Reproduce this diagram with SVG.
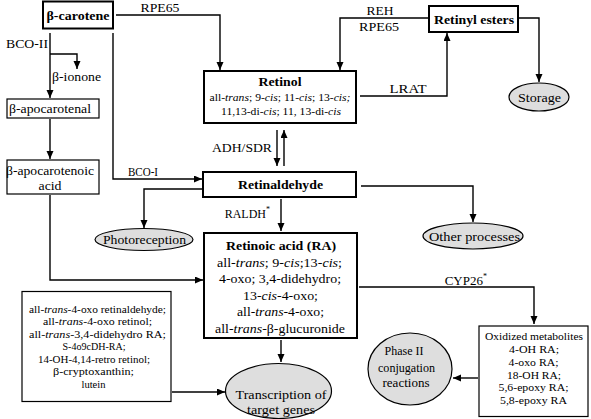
<svg xmlns="http://www.w3.org/2000/svg" width="591" height="419" viewBox="0 0 591 419" font-family="Liberation Serif, Times New Roman, DejaVu Serif, serif">
<style>
text{font-family:'Liberation Serif','Times New Roman','DejaVu Serif',serif;font-size:13px;fill:#000}
.b{font-weight:bold}
.s{font-size:11px}
.r{font-size:12px}
.m{text-anchor:middle}
.e{text-anchor:end}
.i{font-style:italic}
.sup{font-size:8px}
.thick{fill:#fff;stroke:#000;stroke-width:2}
.thin{fill:#fff;stroke:#000;stroke-width:1.2}
.ell{fill:#dedede;stroke:#000;stroke-width:1.2}
.c{fill:none;stroke:#000;stroke-width:1.4;marker-end:url(#ah)}
</style>
<defs>
<marker id="ah" markerUnits="userSpaceOnUse" markerWidth="8" markerHeight="8" refX="8" refY="3.5" orient="auto">
<path d="M0,0 L8,3.5 L0,7 z" fill="#000"/>
</marker>
</defs>
<rect width="591" height="419" fill="#fff"/>
<g id="connectors">
<path class="c" d="M116,15 H220 V70"/>
<path class="c" d="M50,33 V98"/>
<path class="c" d="M50,54 H77 V69"/>
<path class="c" d="M50,119 V159"/>
<path class="c" d="M50,195 V280 H203"/>
<path class="c" d="M113,33 V179 H202"/>
<path class="c" d="M202,189 H144 V228"/>
<path class="c" d="M277,130 V166"/>
<path class="c" d="M284,166 V130"/>
<path class="c" d="M281,199 V231"/>
<path class="c" d="M361,186 H473 V222"/>
<path class="c" d="M360,96 H447 V33"/>
<path class="c" d="M428,18 H340 V70"/>
<path class="c" d="M519,18 H539 V82"/>
<path class="c" d="M359,287 H534 V324"/>
<path class="c" d="M478,378 H453"/>
<path class="c" d="M281,340 V362"/>
<path class="c" d="M172,392 H225"/>
<text x="160" y="12" class="m" textLength="39" lengthAdjust="spacingAndGlyphs">RPE65</text>
<text x="6" y="48" textLength="42" lengthAdjust="spacingAndGlyphs">BCO-II</text>
<text x="52" y="81" textLength="49" lengthAdjust="spacingAndGlyphs">β-ionone</text>
<text x="128" y="176" class="r" textLength="30" lengthAdjust="spacingAndGlyphs">BCO-I</text>
<text x="212" y="152" textLength="60" lengthAdjust="spacingAndGlyphs">ADH/SDR</text>
<text x="270" y="218" class="e r">RALDH<tspan class="sup" dy="-6">*</tspan></text>
<text x="487" y="285" class="e">CYP26<tspan class="sup" dy="-6">*</tspan></text>
<text x="408" y="93" class="m" textLength="37" lengthAdjust="spacingAndGlyphs">LRAT</text>
<text x="380" y="15" class="m" textLength="27" lengthAdjust="spacingAndGlyphs">REH</text>
<text x="379" y="31" class="m" textLength="40" lengthAdjust="spacingAndGlyphs">RPE65</text>
</g>
<g id="beta-carotene">
<rect class="thick" x="43" y="1.5" width="70" height="27"/>
<text x="78" y="20" class="m b" textLength="63" lengthAdjust="spacingAndGlyphs">β-carotene</text>
</g>
<g id="retinol">
<rect class="thick" x="204" y="71" width="152" height="52"/>
<text x="280" y="86" class="m b" textLength="43" lengthAdjust="spacingAndGlyphs">Retinol</text>
<text x="280" y="100.5" class="m s" textLength="141" lengthAdjust="spacingAndGlyphs">all-<tspan class="i">trans</tspan>; 9-<tspan class="i">cis</tspan>; 11-<tspan class="i">cis</tspan>; 13-<tspan class="i">cis;</tspan></text>
<text x="281" y="114.5" class="m s" textLength="120" lengthAdjust="spacingAndGlyphs">11,13-di-<tspan class="i">cis</tspan>; 11, 13-di-<tspan class="i">cis</tspan></text>
</g>
<g id="retinyl-esters">
<rect class="thick" x="429" y="6" width="89" height="26"/>
<text x="474" y="23.5" class="m b" textLength="80" lengthAdjust="spacingAndGlyphs">Retinyl esters</text>
</g>
<g id="storage">
<ellipse class="ell" cx="539" cy="97" rx="30" ry="14"/>
<text x="539.5" y="101.5" class="m" textLength="43" lengthAdjust="spacingAndGlyphs">Storage</text>
</g>
<g id="apocarotenal">
<rect class="thin" x="7" y="99" width="92" height="19"/>
<text x="50" y="113" class="m" textLength="82" lengthAdjust="spacingAndGlyphs">β-apocarotenal</text>
</g>
<g id="apocarotenoic-acid">
<rect class="thin" x="7" y="160" width="92" height="34"/>
<text x="50" y="175" class="m" textLength="88" lengthAdjust="spacingAndGlyphs">β-apocarotenoic</text>
<text x="50" y="190" class="m" textLength="23" lengthAdjust="spacingAndGlyphs">acid</text>
</g>
<g id="retinaldehyde">
<rect class="thick" x="203" y="172" width="153" height="25"/>
<text x="280.5" y="189" class="m b" textLength="85" lengthAdjust="spacingAndGlyphs">Retinaldehyde</text>
</g>
<g id="photoreception">
<ellipse class="ell" cx="144" cy="239.5" rx="49" ry="11"/>
<text x="144.5" y="244" class="m" textLength="83" lengthAdjust="spacingAndGlyphs">Photoreception</text>
</g>
<g id="other-processes">
<ellipse class="ell" cx="473" cy="236" rx="50" ry="13"/>
<text x="474.5" y="240.5" class="m" textLength="91" lengthAdjust="spacingAndGlyphs">Other processes</text>
</g>
<g id="retinoic-acid">
<rect class="thick" x="204" y="233" width="153" height="105"/>
<text x="281" y="250" class="m b" textLength="110" lengthAdjust="spacingAndGlyphs">Retinoic acid (RA)</text>
<text x="279.5" y="266.5" class="m" textLength="125" lengthAdjust="spacingAndGlyphs">all-<tspan class="i">trans</tspan>; 9-<tspan class="i">cis</tspan>;13-<tspan class="i">cis</tspan>;</text>
<text x="280" y="283" class="m" textLength="122" lengthAdjust="spacingAndGlyphs">4-oxo; 3,4-didehydro;</text>
<text x="280.5" y="299.5" class="m" textLength="75" lengthAdjust="spacingAndGlyphs">13-<tspan class="i">cis</tspan>-4-oxo;</text>
<text x="280.5" y="316" class="m" textLength="87" lengthAdjust="spacingAndGlyphs">all-<tspan class="i">trans</tspan>-4-oxo;</text>
<text x="280" y="332.5" class="m" textLength="130" lengthAdjust="spacingAndGlyphs">all-<tspan class="i">trans</tspan>-β-glucuronide</text>
</g>
<g id="other-ligands">
<rect class="thin" x="22" y="291.5" width="149" height="110"/>
<text x="97.5" y="312.5" class="m s" textLength="137" lengthAdjust="spacingAndGlyphs">all-<tspan class="i">trans</tspan>-4-oxo retinaldehyde;</text>
<text x="97.5" y="325" class="m s" textLength="109" lengthAdjust="spacingAndGlyphs">all-<tspan class="i">trans</tspan>-4-oxo retinol;</text>
<text x="97.5" y="337.5" class="m s" textLength="137" lengthAdjust="spacingAndGlyphs">all-<tspan class="i">trans</tspan>-3,4-didehydro RA;</text>
<text x="94" y="350" class="m s" textLength="63" lengthAdjust="spacingAndGlyphs">S-4o9cDH-RA;</text>
<text x="94" y="362.5" class="m s" textLength="112" lengthAdjust="spacingAndGlyphs">14-OH-4,14-retro retinol;</text>
<text x="93.5" y="375" class="m s" textLength="81" lengthAdjust="spacingAndGlyphs">β-cryptoxanthin;</text>
<text x="93.5" y="387.5" class="m s" textLength="24" lengthAdjust="spacingAndGlyphs">lutein</text>
</g>
<g id="transcription">
<ellipse class="ell" cx="278.5" cy="391" rx="53" ry="27.5"/>
<text x="281" y="398.5" class="m" textLength="91" lengthAdjust="spacingAndGlyphs">Transcription of</text>
<text x="281" y="413.5" class="m" textLength="68" lengthAdjust="spacingAndGlyphs">target genes</text>
</g>
<g id="oxidized-metabolites">
<rect class="thin" x="479" y="326" width="109" height="90.5"/>
<text x="534" y="340" class="m s" textLength="98" lengthAdjust="spacingAndGlyphs">Oxidized metabolites</text>
<text x="534" y="353" class="m s" textLength="50" lengthAdjust="spacingAndGlyphs">4-OH RA;</text>
<text x="533.5" y="366" class="m s" textLength="50" lengthAdjust="spacingAndGlyphs">4-oxo RA;</text>
<text x="534" y="378.5" class="m s" textLength="54" lengthAdjust="spacingAndGlyphs">18-OH RA;</text>
<text x="533.5" y="391" class="m s" textLength="70" lengthAdjust="spacingAndGlyphs">5,6-epoxy RA;</text>
<text x="533.5" y="404" class="m s" textLength="67" lengthAdjust="spacingAndGlyphs">5,8-epoxy RA</text>
</g>
<g id="phase-ii">
<ellipse class="ell" cx="410" cy="369" rx="42" ry="36"/>
<text x="404" y="355" class="m" textLength="39" lengthAdjust="spacingAndGlyphs">Phase II</text>
<text x="406.5" y="371.5" class="m" textLength="57" lengthAdjust="spacingAndGlyphs">conjugation</text>
<text x="406" y="387" class="m" textLength="47" lengthAdjust="spacingAndGlyphs">reactions</text>
</g>
</svg>
